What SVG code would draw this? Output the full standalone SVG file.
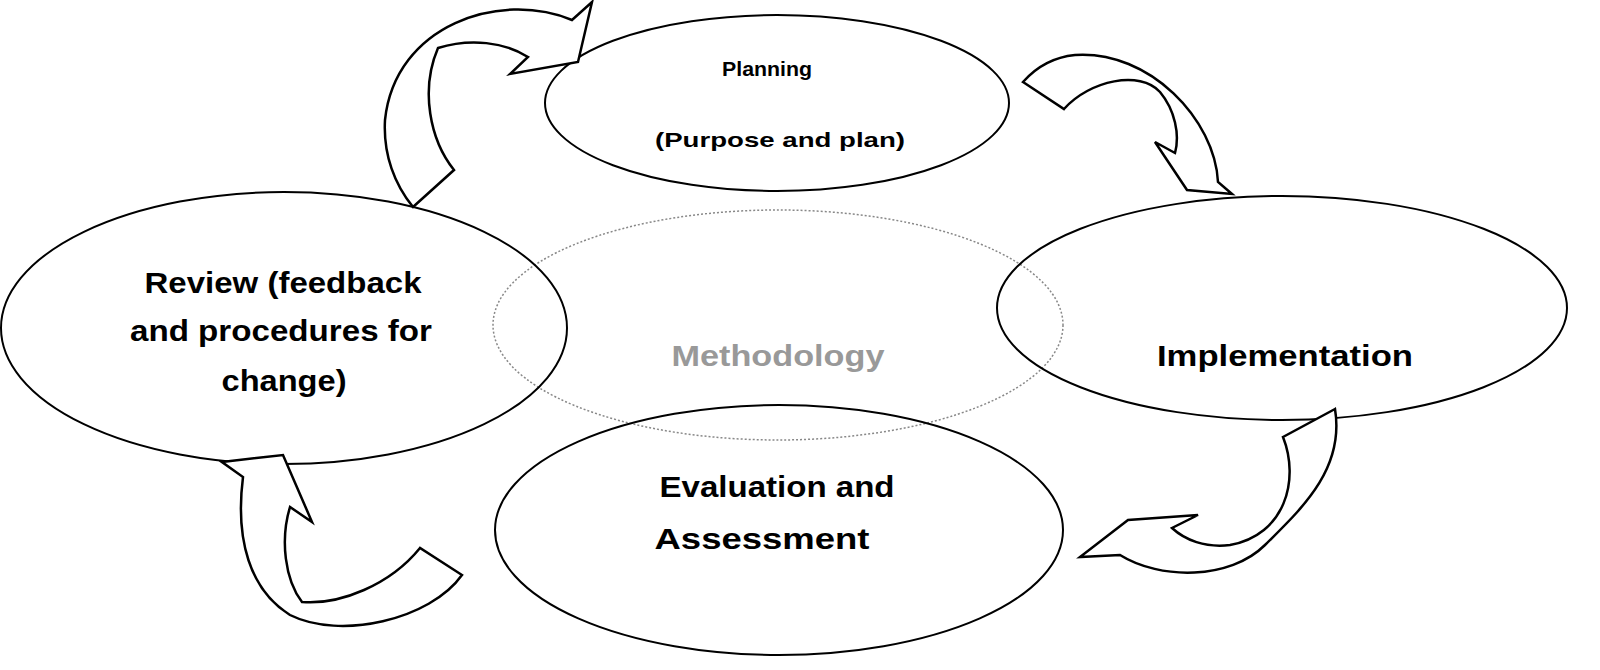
<svg xmlns="http://www.w3.org/2000/svg" width="1600" height="670" viewBox="0 0 1600 670">
<style>
.n{fill:none;stroke:#000;stroke-width:2}
.m{fill:none;stroke:#888;stroke-width:1.5;stroke-dasharray:2 2}
.a{fill:#fff;stroke:#000;stroke-width:2.5;stroke-linejoin:miter}
text{font-family:"Liberation Sans",Arial,sans-serif;font-weight:bold;text-anchor:middle;fill:#000;lengthAdjust:spacingAndGlyphs}
.s{font-size:21px}.b{font-size:29px}
</style>
<rect width="1600" height="670" fill="#fff"/>
<g id="methodology"><ellipse class="m" cx="778" cy="325" rx="285" ry="115"/><text class="b" x="778" y="366" style="fill:#999" textLength="213" lengthAdjust="spacingAndGlyphs">Methodology</text></g>
<g id="planning"><ellipse class="n" cx="777" cy="103" rx="232" ry="88"/><text class="s" x="767" y="76" textLength="90" lengthAdjust="spacingAndGlyphs">Planning</text><text class="s" x="780" y="147" textLength="250" lengthAdjust="spacingAndGlyphs">(Purpose and plan)</text></g>
<g id="review"><ellipse class="n" cx="284" cy="328" rx="283" ry="136"/><text class="b" x="283" y="293" textLength="277" lengthAdjust="spacingAndGlyphs">Review (feedback</text><text class="b" x="281" y="341" textLength="302" lengthAdjust="spacingAndGlyphs">and procedures for</text><text class="b" x="284" y="391" textLength="125" lengthAdjust="spacingAndGlyphs">change)</text></g>
<g id="implementation"><ellipse class="n" cx="1282" cy="308" rx="285" ry="112"/><text class="b" x="1285" y="366" textLength="256" lengthAdjust="spacingAndGlyphs">Implementation</text></g>
<g id="evaluation"><ellipse class="n" cx="779" cy="530" rx="284" ry="125"/><text class="b" x="777" y="497" textLength="235" lengthAdjust="spacingAndGlyphs">Evaluation and</text><text class="b" x="762" y="549" textLength="215" lengthAdjust="spacingAndGlyphs">Assessment</text></g>
<g id="connectors">
<path class="a" d="M413,207 L454,170 C430,140 420,90 438,48 C470,38 505,42 528,57 L510,74 L578,62 L592,2 L572,20 C500,-10 395,25 385,120 C383,155 395,185 413,207 Z"/>
<path class="a" d="M1023,82 L1064,109 C1090,80 1140,70 1160,92 C1175,110 1180,135 1175,153 L1155,142 L1187,190 L1232,194 L1218,182 C1215,120 1150,50 1075,55 C1055,57 1038,65 1023,82 Z"/>
<path class="a" d="M1335,409 L1283,437 C1300,480 1285,535 1230,545 C1205,548 1185,540 1172,528 L1198,515 L1128,520 L1080,557 L1120,555 C1160,580 1230,580 1265,545 C1300,510 1345,470 1335,409 Z"/>
<path class="a" d="M222,462 L283,455 L312,522 L290,507 C280,540 285,580 302,602 C340,605 390,585 420,548 L462,575 C430,620 340,640 290,615 C250,590 235,540 243,477 Z"/>
</g>
</svg>
